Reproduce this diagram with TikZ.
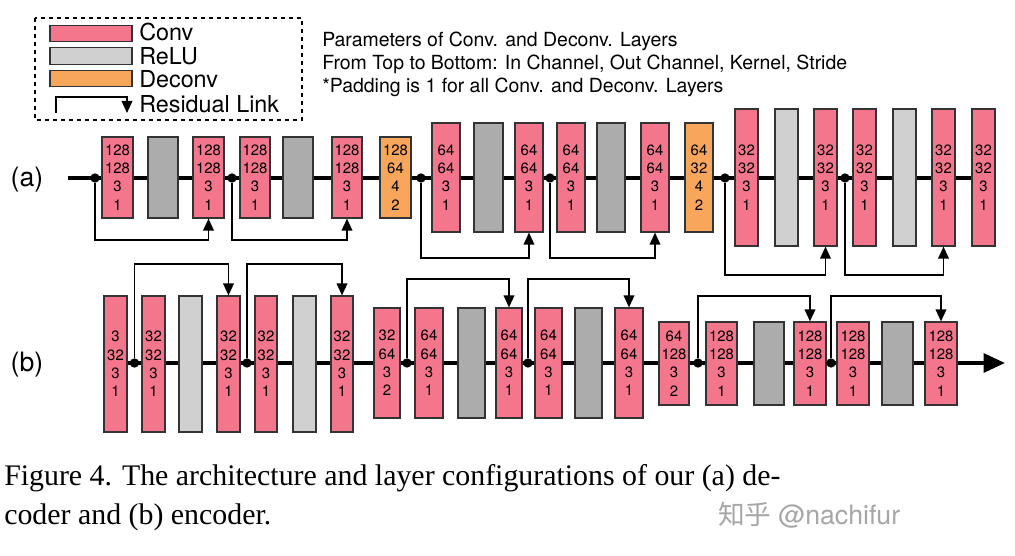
\documentclass[tikz,border=0pt]{standalone}
\usepackage{fontspec}
\setmainfont{Liberation Serif}
\newfontfamily\hv{TeX Gyre Heros}
\newfontfamily\cjk{Noto Sans CJK SC}
\usetikzlibrary{arrows.meta,calc}
\definecolor{conv}{RGB}{243,118,140}
\definecolor{relud}{RGB}{172,172,172}
\definecolor{relul}{RGB}{208,208,208}
\definecolor{deconv}{RGB}{248,166,92}
\newcommand\lay[7]{%
  \pgfmathsetmacro\cx{(#3+#4)/2}\pgfmathsetmacro\cy{(#5+#6)/2}%
  \pgfmathsetmacro\ww{0.75*(#4-#3)}\pgfmathsetmacro\hh{0.75*(#6-#5)}%
  \node[box,fill=#2,minimum width=\ww pt,minimum height=\hh pt] (#1) at (\cx,\cy) {#7};}
\begin{document}
\begin{tikzpicture}[x=0.75pt,y=-0.75pt,
  box/.style={draw=black!80,line width=0.9pt,inner sep=0pt,align=center,font=\hv\fontsize{11.2}{13.8}\selectfont},
  dot/.style={circle,fill=black,inner sep=0pt,minimum size=7pt},
  main/.style={line width=3pt},
  link/.style={line width=1.1pt,-{Triangle[length=9pt,width=8pt]}}]
\useasboundingbox (0,0) rectangle (1015,556);
% legend
\draw[dashed,line width=0.9pt] (35,18) rectangle (302,120);
\node[box,fill=conv,minimum width=61.5pt,minimum height=12.5pt] (lc) at (91,33.5) {};
\node[box,fill=relul,minimum width=61.5pt,minimum height=12.5pt] (lr) at (91,56) {};
\node[box,fill=deconv,minimum width=61.5pt,minimum height=12.5pt] (ld) at (91,78.5) {};
\coordinate (la) at (56,113); \coordinate (lb) at (127,113);
\draw[link] (la) |- (91,97) -| (lb);
\begin{scope}[every node/.style={anchor=west,font=\hv\fontsize{17.5}{18}\selectfont,inner sep=0pt}]
\node (tc) at (139,32) {Conv};
\node (tr) at (139,56) {ReLU};
\node (td) at (139,79) {Deconv};
\node (tl) at (139,104) {Residual Link};
\end{scope}
\node[anchor=north west,align=left,inner sep=0pt,font=\hv\fontsize{14.6}{17}\selectfont] (par) at (322,32)
 {Parameters of Conv. and Deconv. Layers\\From Top to Bottom: In Channel, Out Channel, Kernel, Stride\\*Padding is 1 for all Conv. and Deconv. Layers};
% row a
\node[font=\hv\fontsize{20}{22}\selectfont] (la) at (27,180) {(a)};
\draw[main] (68,178) -- (995,178);
\lay{a1}{conv}{102}{133}{137}{218}{128\\128\\3\\1}
\lay{a2}{relud}{148}{178}{137}{218}{}
\lay{a3}{conv}{193}{224}{137}{218}{128\\128\\3\\1}
\lay{a4}{conv}{240}{270}{137}{218}{128\\128\\3\\1}
\lay{a5}{relud}{283}{313}{137}{218}{}
\lay{a6}{conv}{332}{362}{137}{218}{128\\128\\3\\1}
\lay{a7}{deconv}{380}{411}{137}{218}{128\\64\\4\\2}
\lay{a8}{conv}{432}{460}{123}{232}{64\\64\\3\\1}
\lay{a9}{relud}{474}{503}{123}{232}{}
\lay{a10}{conv}{515}{543}{123}{232}{64\\64\\3\\1}
\lay{a11}{conv}{557}{585}{123}{232}{64\\64\\3\\1}
\lay{a12}{relud}{597}{625}{123}{232}{}
\lay{a13}{conv}{641}{669}{123}{232}{64\\64\\3\\1}
\lay{a14}{deconv}{685}{713}{123}{232}{64\\32\\4\\2}
\lay{a15}{conv}{735}{758}{109}{246}{32\\32\\3\\1}
\lay{a16}{relul}{775}{798}{109}{246}{}
\lay{a17}{conv}{814}{837}{109}{246}{32\\32\\3\\1}
\lay{a18}{conv}{853}{876}{109}{246}{32\\32\\3\\1}
\lay{a19}{relul}{893}{916}{109}{246}{}
\lay{a20}{conv}{932}{955}{109}{246}{32\\32\\3\\1}
\lay{a21}{conv}{972}{995}{109}{246}{32\\32\\3\\1}
\node[dot] (da1) at (95,178) {};
\node[dot] (da2) at (232,178) {};
\node[dot] (da3) at (421,178) {};
\node[dot] (da4) at (550,178) {};
\node[dot] (da5) at (725,178) {};
\node[dot] (da6) at (845,178) {};
\draw[link] (da1) -- ++(0,62) -| (a3.south);
\draw[link] (da2) -- ++(0,62) -| (a6.south);
\draw[link] (da3) -- ++(0,80) -| (a10.south);
\draw[link] (da4) -- ++(0,80) -| (a13.south);
\draw[link] (da5) -- ++(0,97) -| (a17.south);
\draw[link] (da6) -- ++(0,97) -| (a20.south);
% row b
\node[font=\hv\fontsize{20}{22}\selectfont] (lbb) at (27,365) {(b)};
\coordinate (bs) at (110,363); \coordinate (be) at (1005,363);
\draw[main,-{Triangle[length=16pt,width=14pt]}] (bs) -- (be);
\lay{b1}{conv}{104}{127}{296}{432}{3\\32\\3\\1}
\lay{b2}{conv}{142}{165}{296}{432}{32\\32\\3\\1}
\lay{b3}{relul}{179}{202}{296}{432}{}
\lay{b4}{conv}{217}{240}{296}{432}{32\\32\\3\\1}
\lay{b5}{conv}{255}{277}{296}{432}{32\\32\\3\\1}
\lay{b6}{relul}{293}{316}{296}{432}{}
\lay{b7}{conv}{331}{353}{296}{432}{32\\32\\3\\1}
\lay{b8}{conv}{374}{400}{308}{418}{32\\64\\3\\2}
\lay{b9}{conv}{415}{443}{308}{418}{64\\64\\3\\1}
\lay{b10}{relud}{458}{485}{308}{418}{}
\lay{b11}{conv}{496}{522}{308}{418}{64\\64\\3\\1}
\lay{b12}{conv}{535}{562}{308}{418}{64\\64\\3\\1}
\lay{b13}{relud}{575}{602}{308}{418}{}
\lay{b14}{conv}{615}{643}{308}{418}{64\\64\\3\\1}
\lay{b15}{conv}{659}{689}{322}{405}{64\\128\\3\\2}
\lay{b16}{conv}{706}{737}{322}{405}{128\\128\\3\\1}
\lay{b17}{relud}{754}{784}{322}{405}{}
\lay{b18}{conv}{794}{826}{322}{405}{128\\128\\3\\1}
\lay{b19}{conv}{837}{869}{322}{405}{128\\128\\3\\1}
\lay{b20}{relud}{882}{913}{322}{405}{}
\lay{b21}{conv}{925}{957}{322}{405}{128\\128\\3\\1}
\node[dot] (db1) at (134.5,363) {};
\node[dot] (db2) at (247,363) {};
\node[dot] (db3) at (407,363) {};
\node[dot] (db4) at (528,363) {};
\node[dot] (db5) at (698,363) {};
\node[dot] (db6) at (831,363) {};
\draw[link] (db1) -- ++(0,-99) -| (b4.north);
\draw[link] (db2) -- ++(0,-99) -| (b7.north);
\draw[link] (db3) -- ++(0,-84) -| (b11.north);
\draw[link] (db4) -- ++(0,-84) -| (b14.north);
\draw[link] (db5) -- ++(0,-67) -| (b18.north);
\draw[link] (db6) -- ++(0,-67) -| (b21.north);
% caption
\node[anchor=west,inner sep=0pt,font=\fontsize{22.4}{28}\selectfont] (cap1) at (4,478) {Figure 4. The architecture and layer configurations of our (a) de-};
\node[anchor=west,inner sep=0pt,font=\fontsize{22.4}{28}\selectfont] (cap2) at (4,517) {coder and (b) encoder.};
\node[anchor=west,inner sep=0pt,text=black!35,font=\fontsize{20}{24}\selectfont] (wm) at (718,515) {{\cjk 知乎} {\hv @nachifur}};
\end{tikzpicture}
\end{document}
